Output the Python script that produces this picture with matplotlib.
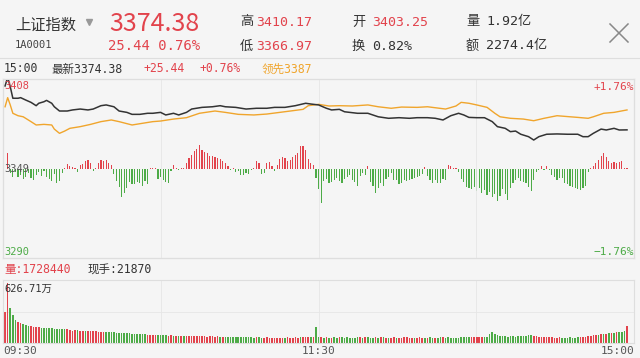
import matplotlib.pyplot as plt
from matplotlib.lines import Line2D

plt.rcParams['font.family'] = ['DejaVu Sans Mono', 'Noto Sans CJK SC']

# ---- data ----
prev_close = 3348.94
last_price = 3374.38
max_vol = 626.71  # 万

# price line (minute index, price)
t_price = [0, 1, 2, 3, 5, 6, 8, 10, 12, 13,
           15, 16, 18, 19, 21, 24, 26, 29, 32, 34,
           37, 39, 42, 44, 47, 49, 52, 55, 57, 60,
           62, 65, 67, 70, 72, 76, 80, 83, 85, 89,
           93, 97, 101, 104, 108, 112, 116, 118, 121, 124,
           126, 129, 131, 136, 140, 144, 148, 152, 156, 159,
           163, 166, 169, 172, 175, 177, 179, 182, 185, 188,
           190, 193, 195, 197, 199, 202, 204, 206, 209, 213,
           217, 221, 223, 225, 227, 230, 232, 235, 237, 240]
price = [3403.3, 3409.0, 3402.8, 3395.2, 3395.2, 3395.6, 3394.0, 3392.5, 3390.3, 3391.9,
         3392.9, 3393.8, 3391.9, 3389.6, 3386.8, 3386.8, 3387.5, 3388.1, 3387.5, 3388.1,
         3390.3, 3390.8, 3389.6, 3386.8, 3385.9, 3384.6, 3384.6, 3385.3, 3385.3, 3385.9,
         3384.2, 3385.3, 3384.2, 3385.9, 3388.1, 3389.2, 3389.6, 3390.3, 3389.6, 3389.2,
         3388.1, 3388.6, 3388.6, 3389.2, 3389.2, 3390.3, 3391.9, 3391.4, 3390.8, 3388.6,
         3387.5, 3387.9, 3386.3, 3385.3, 3385.3, 3383.0, 3382.0, 3382.4, 3382.0, 3382.4,
         3382.4, 3382.0, 3380.9, 3383.7, 3385.3, 3384.2, 3382.6, 3382.4, 3382.4, 3379.8,
         3376.5, 3375.4, 3373.2, 3373.6, 3371.5, 3369.9, 3367.7, 3369.9, 3371.5, 3371.7,
         3371.5, 3371.5, 3369.9, 3369.9, 3372.1, 3374.9, 3374.3, 3375.4, 3374.3, 3374.38]

# leading line (领先)
t_lead = [0, 1, 2, 3, 5, 7, 10, 12, 15, 18,
          19, 21, 23, 25, 29, 33, 37, 41, 44, 49,
          53, 57, 60, 65, 70, 75, 81, 85, 90, 96,
          101, 106, 111, 115, 117, 121, 125, 129, 134, 140,
          144, 149, 153, 159, 163, 170, 174, 176, 179, 182,
          186, 189, 191, 195, 200, 204, 208, 213, 218, 221,
          225, 227, 231, 235, 240]
lead = [3389.6, 3395.6, 3390.8, 3385.3, 3383.7, 3383.0, 3379.8, 3377.6, 3378.0, 3377.6,
        3374.9, 3372.1, 3373.6, 3375.4, 3376.5, 3378.0, 3379.8, 3380.9, 3379.8, 3377.6,
        3378.7, 3379.8, 3380.2, 3381.5, 3382.4, 3385.3, 3386.8, 3385.9, 3384.6, 3384.2,
        3384.8, 3385.9, 3387.0, 3387.9, 3390.3, 3391.2, 3390.1, 3390.3, 3390.1, 3390.8,
        3389.6, 3388.6, 3389.4, 3389.2, 3389.6, 3388.1, 3390.1, 3392.5, 3391.9, 3390.8,
        3389.2, 3385.3, 3383.0, 3382.0, 3381.5, 3380.4, 3382.0, 3383.7, 3383.0, 3382.6,
        3382.0, 3383.0, 3385.3, 3385.9, 3387.5]

# buy/sell power bars, one per minute
power = [0, 16, -4, -8, -3, -8, -6, -10, -8, -4,
         -9, -11, -6, -3, -7, -2, -8, -10, -12, -5,
         -14, -12, -4, 1, 5, 3, 2, 1, -3, 4,
         5, 8, 9, 6, -2, 1, 6, 9, 8, 9,
         6, 4, -5, -12, -18, -28, -24, -19, -13, -15,
         -15, -13, -14, -17, -12, -15, 1, 1, 1, -10,
         -8, -11, -13, -14, -2, 4, 1, -1, 1, 1,
         6, 11, 14, 18, 20, 24, 19, 17, 16, 13,
         13, 12, 11, 10, 8, 6, 3, -1, 1, -3,
         -2, -6, -6, -4, -5, -1, 1, 8, 6, -5,
         -4, 6, 7, 3, -2, 4, 10, 12, 11, 8,
         9, 12, 14, 16, 23, 23, 19, 10, 6, 4,
         -9,
         -20, -34, -12, -10, -14, -13, -11, -9, -12, -14,
         -10, -8, -6, -11, -13, -17, -7, -4, -6, 3,
         -13, -17, -24, -19, -14, -17, -10, -8, -4, -11,
         -11, -15, -14, -11, -12, -11, -10, -9, -8, -7,
         -5, 2, -7, -11, -14, -11, -14, -14, -10, -11,
         4, 3, 1, 1, -3, -10, -13, -18, -19, -20,
         -18, -22, -19, -24, -21, -26, -23, -28, -25, -32,
         -27, -20, -25, -31, -19, -14, -11, -9, -12, -13,
         -14, -18, -22, -11, -3, -1, 3, -1, 3, -1,
         -6, -8, -11, -9, -9, -14, -15, -17, -18, -19,
         -20, -21, -19, -17, -3, 1, 3, 6, 9, 13,
         16, 12, 8, 6, 7, 6, 7, 8, 1, 1]

# volume per minute (万)
volume = [320, 626.71, 371, 293, 246, 219, 210, 202, 185, 178,
          175, 170, 168, 165, 160, 158, 160, 155, 152, 150,
          150, 150, 148, 148, 145, 135, 130, 140, 135, 130,
          128, 130, 125, 122, 125, 128, 120, 118, 118, 115,
          118, 115, 112, 110, 110, 108, 105, 100, 100, 98,
          95, 95, 92, 90, 92, 88, 85, 85, 82, 85,
          82, 80, 80, 78, 80, 78, 75, 76, 78, 75,
          72, 70, 74, 72, 70, 75, 72, 70, 68, 70,
          72, 68, 70, 66, 68, 65, 64, 62, 62, 60,
          60, 58, 60, 62, 60, 58, 57, 60, 58, 56,
          56, 58, 55, 55, 57, 56, 54, 55, 56, 58,
          56, 55, 58, 56, 60, 62, 60, 58, 60, 62,
          168,
          60, 62, 55, 58, 57, 55, 58, 56, 60, 58,
          55, 58, 56, 57, 55, 60, 58, 57, 60, 58,
          57, 55, 58, 56, 60, 58, 57, 56, 55, 58,
          57, 56, 55, 58, 60, 57, 55, 56, 57, 58,
          56, 55, 57, 58, 56, 55, 57, 58, 60, 56,
          58, 57, 55, 56, 57, 58, 60, 58, 62, 65,
          60, 62, 58, 60, 62, 65, 95, 111, 90, 80,
          75, 72, 70, 68, 72, 70, 68, 70, 72, 75,
          78, 85, 82, 75, 70, 65, 62, 60, 58, 60,
          58, 57, 56, 58, 57, 56, 55, 58, 57, 56,
          60, 62, 65, 68, 70, 75, 80, 82, 85, 90,
          92, 98, 100, 105, 110, 115, 118, 120, 125, 179]
vol_dir = ("rrgggrrggg" "rrrrgggggg" "ggggrrrrgr" "rgrrrrrrrg" "gggggggggg"
           "gggggrrrrg" "gggrrgrgrg" "rrrrrrrrrr" "rrrgrggggg" "gggggggrgg"
           "rrrrrrrrgr" "rrrrgrrrgr" "g"
           "grgrgrggrg" "ggggggrgrg" "ggrgrgrgrr" "grrrrrrgrr" "rgrggrggrg"
           "gggggggggr" "rrrrgggggg" "gggggggggg" "gggrrrrrrr" "rrrrgggggg"
           "grrrrrrrgr" "grgrgrgggr")

minutes = list(range(len(volume)))

RED = '#e2434c'
GREEN = '#4dab47'
ORANGE = '#f0a52c'
DARK = '#333333'
GRID = '#dedede'
BG = '#f5f5f5'

fig = plt.figure(figsize=(6.4, 3.58), dpi=100, facecolor=BG)


def fx(x):
    return x / 640


def fy(y):
    return 1 - y / 358


def label(x, y, s, size, color, ha='left', **kw):
    fig.text(fx(x), fy(y), s, fontsize=size, color=color, ha=ha, va='center', **kw)


# ---- header ----
label(15, 25, '上证指数', 11, DARK)
fig.add_artist(Line2D([fx(89)], [fy(22)], marker='v', markersize=5, color='#999999', lw=0))
label(109, 24, f'{last_price:.2f}', 18, RED, family=['Noto Sans CJK SC'])
label(15, 45, '1A0001', 7.5, '#444444')
label(108, 46, '25.44 0.76%', 10, RED)

label(240, 22, '高', 9.5, DARK)
label(256, 22, '3410.17', 9.5, RED)
label(240, 46, '低', 9.5, DARK)
label(256, 46, '3366.97', 9.5, RED)
label(352, 22, '开', 9.5, DARK)
label(372, 22, '3403.25', 9.5, RED)
label(352, 46, '换', 9.5, DARK)
label(372, 46, '0.82%', 9.5, DARK)
label(466, 22, '量', 9.5, DARK)
label(486, 22, '1.92亿', 9.5, DARK)
label(466, 46, '额', 9.5, DARK)
label(486, 46, '2274.4亿', 9.5, DARK)

# close icon
fig.add_artist(Line2D([fx(610), fx(628)], [fy(24), fy(42)], color='#888888', lw=1.1))
fig.add_artist(Line2D([fx(610), fx(628)], [fy(42), fy(24)], color='#888888', lw=1.1))

fig.add_artist(Line2D([0, 1], [fy(57.5), fy(57.5)], color=GRID, lw=0.8))

# ---- info line ----
label(4, 69, '15:00', 8.3, DARK)
label(51, 69, f'最新{last_price:.2f}', 8.3, DARK)
label(143, 69, '+25.44', 8.3, RED)
label(199, 69, '+0.76%', 8.3, RED)
label(262, 69, '领先3387', 8.3, ORANGE)

# ---- price panel ----
lo = prev_close * (1 - 0.0176)
hi = prev_close * (1 + 0.0176)

ax = fig.add_axes([fx(3), fy(258), 631 / 640, 179 / 358])
axp = ax.twinx()
ax.set_zorder(axp.get_zorder() + 1)
ax.patch.set_visible(False)

axp.bar(minutes, power, width=0.45,
        color=[RED if p > 0 else GREEN for p in power], linewidth=0)
axp.set_ylim(-89.5, 89.5)

ax.plot(t_lead, lead, color=ORANGE, lw=1.0)
ax.plot(t_price, price, color=DARK, lw=1.1)
ax.set_xlim(-0.8, 242.7)
ax.set_ylim(lo, hi)

for a in (ax, axp):
    a.set_xticks([])
    a.set_yticks([])
    for s in a.spines.values():
        s.set_color(GRID)
        s.set_linewidth(0.8)
for f in (0.25, 0.5, 0.75):
    ax.plot([f, f], [0, 1], transform=ax.transAxes, color='#e6e6e6', lw=0.6, zorder=0)

label(4, 86, f'{hi:.0f}', 7.5, RED)
label(4, 169, f'{prev_close:.0f}', 7.5, '#555555')
label(4, 252, f'{lo:.0f}', 7.5, GREEN)
label(634, 87, '+1.76%', 8, RED, ha='right')
label(634, 252, '−1.76%', 8, GREEN, ha='right')

# ---- volume panel ----
label(4, 270, '量:1728440', 8.3, RED)
label(88, 270, '现手:21870', 8.3, DARK)

vax = fig.add_axes([fx(3), fy(343), 631 / 640, 63 / 358])
vax.set_facecolor(BG)
vax.bar(minutes, volume, width=0.62,
        color=[RED if c == 'r' else GREEN for c in vol_dir], linewidth=0)
vax.set_xlim(-0.8, 242.7)
vax.set_ylim(0, 660)
vax.set_xticks([])
vax.set_yticks([])
for s in vax.spines.values():
    s.set_color(GRID)
    s.set_linewidth(0.8)
vax.plot([0, 1], [0.5, 0.5], transform=vax.transAxes, color='#e6e6e6', lw=0.6, zorder=0)
for f in (0.25, 0.5, 0.75):
    vax.plot([f, f], [0, 1], transform=vax.transAxes, color='#e6e6e6', lw=0.6, zorder=0)

label(4, 289, f'{max_vol:.2f}万', 7.5, DARK)

label(3, 351, '09:30', 8, '#555555')
label(318.5, 351, '11:30', 8, '#555555', ha='center')
label(634, 351, '15:00', 8, '#555555', ha='right')

fig.savefig('out.png', dpi=100, facecolor=BG)
